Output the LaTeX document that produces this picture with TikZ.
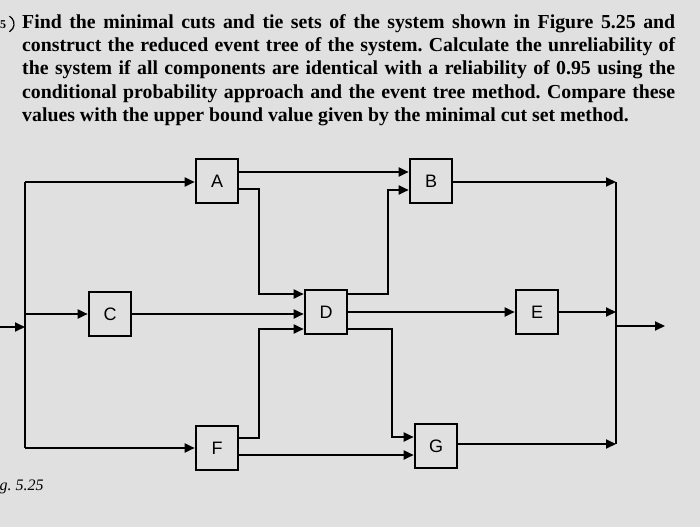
\documentclass[tikz,border=0pt]{standalone}
\usepackage{fontspec}
\setmainfont{Liberation Serif}
\setsansfont{Liberation Sans}
\usetikzlibrary{arrows.meta}
\newcommand{\txtline}[1]{\makebox[653pt][s]{#1}\\}
\begin{document}
\frenchspacing
\begin{tikzpicture}[x=1pt,y=-1pt,
  blk/.style={draw,line width=2.6pt,minimum width=42pt,minimum height=44pt,inner sep=0pt,font=\sffamily\fontsize{18}{18}\selectfont},
  wire/.style={line width=1.8pt,-{Triangle[length=10pt,width=9pt]}},
  plain/.style={line width=1.8pt}]
\fill[black!12] (0,0) rectangle (700,527);
\useasboundingbox (0,0) rectangle (700,527);
\node[anchor=north west,inner sep=0pt,align=left,font=\bfseries\fontsize{19.8}{23.3}\selectfont] (txt) at (22,14)
{\txtline{Find the minimal cuts and tie sets of the system shown in Figure 5.25 and}
\txtline{construct the reduced event tree of the system. Calculate the unreliability of}
\txtline{the system if all components are identical with a reliability of 0.95 using the}
\txtline{conditional probability approach and the event tree method. Compare these}
values with the upper bound value given by the minimal cut set method.};
\draw[line width=1.2pt] (9.5,16.2) arc (-60:60:9);
\node[font=\bfseries\fontsize{12}{12}\selectfont] (num) at (3,25) {5};
\node[font=\itshape\fontsize{16}{16}\selectfont,anchor=west] (cap) at (-4,487) {g. 5.25};

\node[blk] (A) at (217,181) {A};
\node[blk] (B) at (431,181) {B};
\node[blk] (C) at (110,314) {C};
\node[blk] (D) at (326,312) {D};
\node[blk] (E) at (537,312) {E};
\node[blk] (F) at (217,448) {F};
\node[blk] (G) at (436,446) {G};

\coordinate (in0) at (0,327);
\coordinate (lb) at (25,327);
\coordinate (lt) at (25,182);
\coordinate (lbt) at (25,448);
\coordinate (rt) at (616,182);
\coordinate (rb) at (616,444);
\coordinate (ro) at (616,326);
\coordinate (out) at (665,326);

\draw[wire] (in0) -- (lb);
\draw[plain] (lt) -- (lbt);
\draw[wire] (lt) -- (A.west|-lt);
\draw[wire] (25,314) -- (C.west);
\draw[wire] (lbt) -- (F.west|-lbt);
\draw[wire] (A.east|-0,172) -- (B.west|-0,172);
\draw[wire] (A.east|-0,189) -| (259,294) -- (D.west|-0,294);
\draw[wire] (C.east) -- (D.west|-C.east);
\draw[wire] (F.east|-0,438) -| (259,329) -- (D.west|-0,329);
\draw[wire] (D.east|-0,294) -| (388,190) -- (B.west|-0,190);
\draw[wire] (D.east) -- (E.west);
\draw[wire] (D.east|-0,329) -| (392,437) -- (G.west|-0,437);
\draw[wire] (F.east|-0,455) -- (G.west|-0,455);
\draw[wire] (B.east|-rt) -- (rt);
\draw[wire] (E.east) -- (E.east-|ro);
\draw[wire] (G.east|-rb) -- (rb);
\draw[plain] (rt) -- (rb);
\draw[wire] (ro) -- (out);
\end{tikzpicture}
\end{document}
